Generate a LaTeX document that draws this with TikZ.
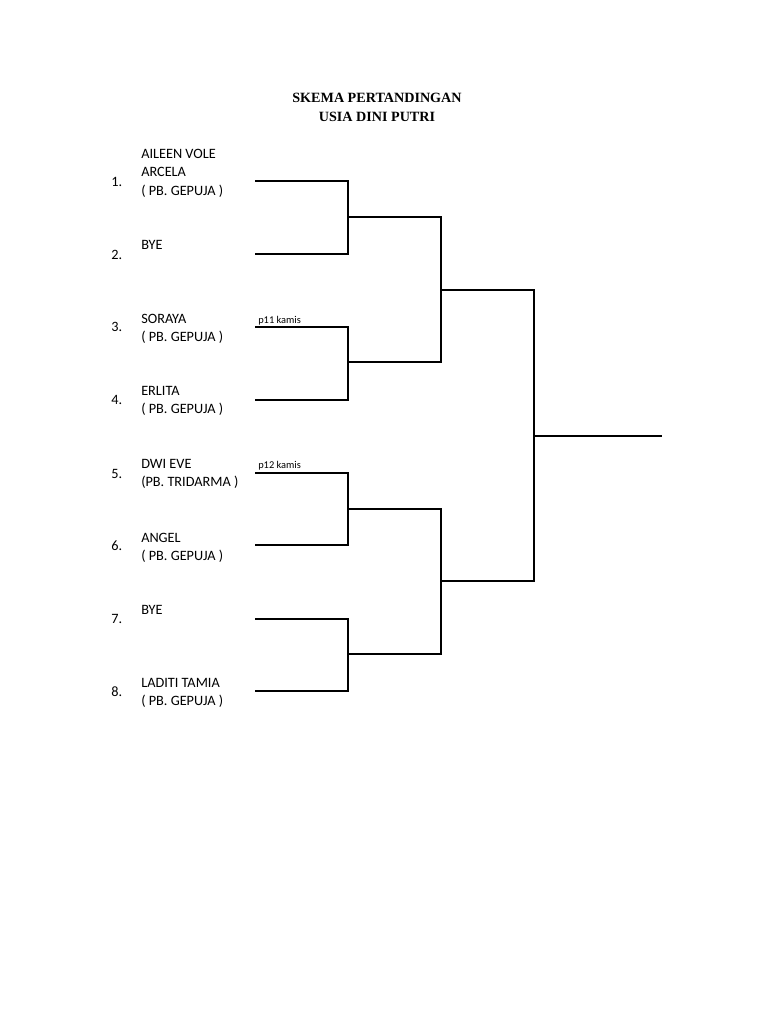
\documentclass[tikz,border=0pt]{standalone}
\usepackage{fontspec}
\setmainfont{Carlito}
\newfontfamily\titlefont{Liberation Serif}
\begin{document}
\begin{tikzpicture}[x=0.75pt,y=-0.75pt,
  bline/.style={line width=0.9pt,line cap=rect},
  lbl/.style={anchor=base west,inner sep=0pt,font=\fontsize{10.7}{12}\selectfont},
  numlbl/.style={anchor=base west,inner sep=0pt,font=\fontsize{10.7}{12}\selectfont},
  small/.style={anchor=base west,inner sep=0pt,font=\fontsize{7.8}{9}\selectfont},
  ttl/.style={anchor=center,inner sep=0pt,font=\titlefont\bfseries\fontsize{10.6}{12}\selectfont}]
\useasboundingbox (0,0) rectangle (768,1024);
\fill[white] (0,0) rectangle (768,1024);
% title
\node[ttl] (t1) at (377,98) {SKEMA PERTANDINGAN};
\node[ttl] (t2) at (377,117) {USIA DINI PUTRI};
% numbers
\node[numlbl] (n1) at (111,186) {1.};
\node[numlbl] (n2) at (111,259) {2.};
\node[numlbl] (n3) at (111,331) {3.};
\node[numlbl] (n4) at (111,404) {4.};
\node[numlbl] (n5) at (111,478) {5.};
\node[numlbl] (n6) at (111,550) {6.};
\node[numlbl] (n7) at (111,623) {7.};
\node[numlbl] (n8) at (111,696) {8.};
% names
\node[lbl] (a1) at (141,158) {AILEEN VOLE};
\node[lbl] (a1b) at (141,176) {ARCELA};
\node[lbl] (a1c) at (141,195) {( PB. GEPUJA )};
\node[lbl] (a2) at (141,249) {BYE};
\node[lbl] (a3) at (141,323) {SORAYA};
\node[lbl] (a3b) at (141,341) {( PB. GEPUJA )};
\node[lbl] (a4) at (141,395) {ERLITA};
\node[lbl] (a4b) at (141,413) {( PB. GEPUJA )};
\node[lbl] (a5) at (141,468) {DWI EVE};
\node[lbl] (a5b) at (141,486) {(PB. TRIDARMA )};
\node[lbl] (a6) at (141,542) {ANGEL};
\node[lbl] (a6b) at (141,560) {( PB. GEPUJA )};
\node[lbl] (a7) at (141,614) {BYE};
\node[lbl] (a8) at (141,687) {LADITI TAMIA};
\node[lbl] (a8b) at (141,705) {( PB. GEPUJA )};
\node[small] (p11) at (258,323) {p11 kamis};
\node[small] (p12) at (258,468) {p12 kamis};
% bracket coordinates
\foreach \i/\y in {1/181,2/254,3/327,4/400,5/473,6/545,7/619,8/691}{
  \coordinate (s\i) at (256,\y);
  \coordinate (m\i) at (348,\y);
}
\foreach \i/\y in {1/217,2/362,3/509,4/654}{
  \coordinate (r\i) at (348,\y);
  \coordinate (q\i) at (441,\y);
}
\foreach \i/\y in {1/290,2/581}{
  \coordinate (u\i) at (441,\y);
  \coordinate (v\i) at (534,\y);
}
\coordinate (f0) at (534,436);
\coordinate (f1) at (661,436);
% round 1
\draw[bline] (s1) -- (m1) -- (m2) -- (s2);
\draw[bline] (s3) -- (m3) -- (m4) -- (s4);
\draw[bline] (s5) -- (m5) -- (m6) -- (s6);
\draw[bline] (s7) -- (m7) -- (m8) -- (s8);
% round 2
\draw[bline] (r1) -- (q1) -- (q2) -- (r2);
\draw[bline] (r3) -- (q3) -- (q4) -- (r4);
% round 3
\draw[bline] (u1) -- (v1) -- (v2) -- (u2);
% final
\draw[bline] (f0) -- (f1);
\end{tikzpicture}
\end{document}
